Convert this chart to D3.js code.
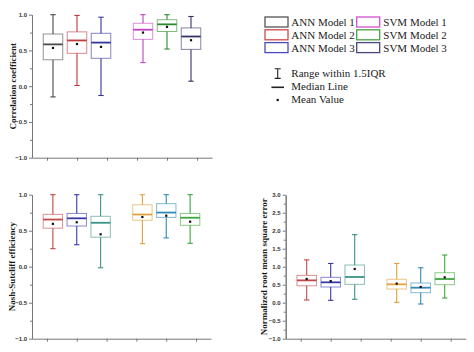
<!DOCTYPE html>
<html>
<head>
<meta charset="utf-8">
<script src="https://cdn.jsdelivr.net/npm/d3@7"></script>
<style>
  body { margin: 0; background: #fff; }
  svg { display: block; font-family: "Liberation Serif", "Times New Roman", serif; }
  .tick text { font-weight: bold; font-size: 6px; fill: #333; }
  .axis path, .axis line { stroke: #777; }
</style>
</head>
<body>
<div id="chart"></div>
<script>
// Box plot values: [whiskerLow, q1, median, q3, whiskerHigh, mean]
const models = ["ANN Model 1", "ANN Model 2", "ANN Model 3", "SVM Model 1", "SVM Model 2", "SVM Model 3"];
const corrStats = [
  [-0.15, 0.37, 0.585, 0.73, 1.00, 0.535],
  [ 0.01, 0.46, 0.64, 0.76, 0.99, 0.59],
  [-0.13, 0.39, 0.61, 0.74, 0.965, 0.55],
  [ 0.33, 0.655, 0.79, 0.88, 1.00, 0.75],
  [ 0.52, 0.765, 0.865, 0.93, 1.00, 0.83],
  [ 0.07, 0.515, 0.695, 0.815, 0.975, 0.643]
];
const nseStats = [
  [ 0.25, 0.535, 0.655, 0.727, 1.00, 0.595],
  [ 0.305, 0.565, 0.672, 0.74, 1.00, 0.617],
  [-0.015, 0.41, 0.61, 0.70, 1.00, 0.45],
  [ 0.32, 0.645, 0.725, 0.86, 1.00, 0.69],
  [ 0.40, 0.685, 0.752, 0.875, 1.00, 0.708],
  [ 0.325, 0.575, 0.68, 0.74, 1.00, 0.625]
];
const nrmseStats = [
  [ 0.075, 0.47, 0.62, 0.76, 1.19, 0.66],
  [ 0.066, 0.436, 0.566, 0.705, 1.09, 0.60],
  [ 0.094, 0.51, 0.714, 1.047, 1.89, 0.936],
  [ 0.01, 0.38, 0.51, 0.65, 1.09, 0.53],
  [-0.036, 0.278, 0.417, 0.547, 0.97, 0.436],
  [ 0.13, 0.50, 0.658, 0.833, 1.325, 0.705]
];
const topColors = ["#4a4a4a", "#c0393b", "#34349a", "#c043c0", "#2f8a2f", "#343466"];
const bottomColors = ["#c0474a", "#3a3aa8", "#3a9486", "#e0a23c", "#2f8ab8", "#3da63d"];
const legendColors = ["#555555", "#d04a4a", "#4a4ab8", "#d050d0", "#48a048", "#48487e"];
const unitTicks = [-1, -0.5, 0, 0.5, 1];
const nrmseTicks = [-1, -0.5, 0, 0.5, 1, 1.5, 2, 2.5, 3];

const width = 474, height = 352;

const svg = d3.select("#chart")
  .append("svg")
  .attr("width", width)
  .attr("height", height)
  .attr("viewBox", [0, 0, width, height]);

// category slots 1..6, boxes squeezed toward group centres 2 and 5
const slot = i => (i < 3 ? 2 : 5) + (i % 3 - 1) * 0.8;

function drawPanel(p) {
  const x = d3.scaleLinear().domain([0.5, 6.5]).range([p.left, p.right]);
  const y = d3.scaleLinear().domain(p.domain).range([p.bottom, p.top]);
  const g = svg.append("g");

  // minor ticks
  const minor = d3.range(p.domain[0], p.domain[1] + 0.001, 0.25)
    .filter(v => !p.ticks.some(t => Math.abs(t - v) < 1e-6));
  g.append("g")
    .attr("class", "axis")
    .attr("transform", `translate(${p.left},0)`)
    .call(d3.axisLeft(y).tickValues(minor).tickSize(2).tickSizeOuter(0).tickFormat(""));

  // y axis
  g.append("g")
    .attr("class", "axis")
    .attr("transform", `translate(${p.left},0)`)
    .call(d3.axisLeft(y).tickValues(p.ticks).tickSize(3).tickPadding(2)
      .tickSizeOuter(0).tickFormat(d3.format(".1f")));

  // x axis, no labels
  g.append("g")
    .attr("class", "axis")
    .attr("transform", `translate(0,${p.bottom})`)
    .call(d3.axisBottom(x).tickValues([1, 2, 3, 4, 5, 6]).tickSize(3)
      .tickSizeOuter(0).tickFormat(""));

  // y title
  g.append("text")
    .attr("transform", `translate(${p.titleX},${(p.top + p.bottom) / 2}) rotate(-90)`)
    .attr("text-anchor", "middle")
    .attr("dy", "0.35em")
    .attr("font-size", "9px")
    .attr("font-weight", "bold")
    .attr("fill", "#1a1a1a")
    .text(p.title);

  const bw = x(0.65) - x(0);
  const cap = x(0.09) - x(0);

  const box = g.selectAll(".box")
    .data(p.stats)
    .join("g")
    .attr("class", "box");

  box.each(function (d, i) {
    const s = d3.select(this);
    const cx = x(slot(i));
    const c = p.colors[i];
    // whiskers
    s.append("line")
      .attr("x1", cx).attr("x2", cx)
      .attr("y1", y(d[0])).attr("y2", y(d[1]))
      .attr("stroke", c).attr("stroke-width", 1.1);
    s.append("line")
      .attr("x1", cx).attr("x2", cx)
      .attr("y1", y(d[3])).attr("y2", y(d[4]))
      .attr("stroke", c).attr("stroke-width", 1.1);
    [d[0], d[4]].forEach(v => {
      s.append("line")
        .attr("x1", cx - cap).attr("x2", cx + cap)
        .attr("y1", y(v)).attr("y2", y(v))
        .attr("stroke", c).attr("stroke-width", 1.1);
    });
    // box
    s.append("rect")
      .attr("x", cx - bw / 2)
      .attr("y", y(d[3]))
      .attr("width", bw)
      .attr("height", y(d[1]) - y(d[3]))
      .attr("fill", "none")
      .attr("stroke", c)
      .attr("stroke-opacity", 0.6)
      .attr("stroke-width", 1);
    // median
    s.append("line")
      .attr("x1", cx - bw / 2).attr("x2", cx + bw / 2)
      .attr("y1", y(d[2])).attr("y2", y(d[2]))
      .attr("stroke", c).attr("stroke-width", 1.8);
    // mean
    s.append("rect")
      .attr("x", cx - 1.1).attr("y", y(d[5]) - 1.1)
      .attr("width", 2.2).attr("height", 2.2)
      .attr("fill", "#111");
  });
}

drawPanel({ left: 32, right: 212, top: 14.7, bottom: 157.7, domain: [-1, 1],
  ticks: unitTicks, title: "Correlation coefficient", titleX: 12.5,
  stats: corrStats, colors: topColors });

drawPanel({ left: 32, right: 211, top: 194.7, bottom: 338.7, domain: [-1, 1],
  ticks: unitTicks, title: "Nash-Sutcliff efficiency", titleX: 12,
  stats: nseStats, colors: bottomColors });

drawPanel({ left: 285.7, right: 465.7, top: 194.7, bottom: 338.7, domain: [-1, 3],
  ticks: nrmseTicks, title: "Normalized root mean square error", titleX: 263.5,
  stats: nrmseStats, colors: bottomColors });

// Legend
const legend = svg.append("g");
legend.selectAll("rect")
  .data(models)
  .join("rect")
  .attr("x", (d, i) => i < 3 ? 265 : 356.7)
  .attr("y", (d, i) => 17 + (i % 3) * 12.8)
  .attr("width", 23)
  .attr("height", 10)
  .attr("fill", "none")
  .attr("stroke", (d, i) => legendColors[i])
  .attr("stroke-width", 1.3);

legend.selectAll("text.model")
  .data(models)
  .join("text")
  .attr("class", "model")
  .attr("x", (d, i) => i < 3 ? 291.3 : 383.3)
  .attr("y", (d, i) => 26.3 + (i % 3) * 12.8)
  .attr("font-size", "11px")
  .attr("fill", "#222")
  .text(d => d);

const keyX = 277.7;
// range symbol
legend.append("path")
  .attr("d", `M${keyX - 3},68.8H${keyX + 3}M${keyX},68.8V78.4M${keyX - 3},78.4H${keyX + 3}`)
  .attr("stroke", "#222").attr("stroke-width", 1.1).attr("fill", "none");
legend.append("line")
  .attr("x1", keyX - 6.3).attr("x2", keyX + 6.3)
  .attr("y1", 87.3).attr("y2", 87.3)
  .attr("stroke", "#222").attr("stroke-width", 1.6);
legend.append("rect")
  .attr("x", keyX - 1.1).attr("y", 98.9)
  .attr("width", 2.2).attr("height", 2.2)
  .attr("fill", "#111");

legend.selectAll("text.key")
  .data(["Range within 1.5IQR", "Median Line", "Mean Value"])
  .join("text")
  .attr("class", "key")
  .attr("x", 291.3)
  .attr("y", (d, i) => 77.3 + i * 12.9)
  .attr("font-size", "11px")
  .attr("fill", "#222")
  .text(d => d);
</script>
</body>
</html>
